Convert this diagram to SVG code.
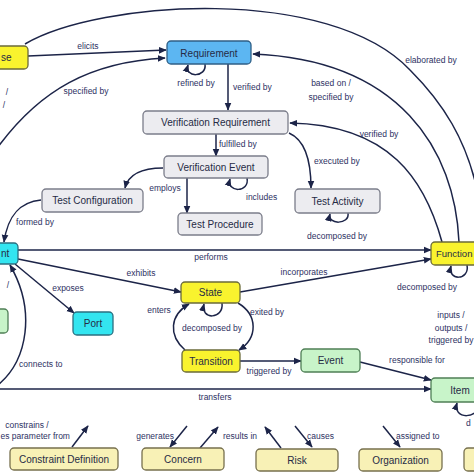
<svg xmlns="http://www.w3.org/2000/svg" width="474" height="474" viewBox="0 0 474 474">
<defs>
<marker id="a" viewBox="0 0 10 10" refX="9" refY="5" markerWidth="8" markerHeight="8" markerUnits="userSpaceOnUse" orient="auto"><path d="M0,0.8 L10,5 L0,9.2 z" fill="#1c2448"/></marker>
<style>
.n rect{stroke-width:1.3}
.y rect{fill:#f9f32e;stroke:#6b6b3a}
.b rect{fill:#5cb6f2;stroke:#2f5f86}
.g rect{fill:#ececf0;stroke:#7b7d8a}
.c rect{fill:#33e5f0;stroke:#2b6f80}
.gr rect{fill:#c8f4c9;stroke:#4f7f56}
.ly rect{fill:#f8f1b6;stroke:#77704e}
.n text{font-family:"Liberation Sans",Arial,sans-serif;font-size:10px;fill:#262b45;text-anchor:middle}
.e path{fill:none;stroke:#1c2448;stroke-width:1.5}
.e path.m{marker-end:url(#a)}
.l{font-family:"Liberation Sans",Arial,sans-serif;font-size:8.5px;fill:#2d3163}
.l text.c{text-anchor:middle}
.l text.r{text-anchor:end}
</style>
</defs>
<rect width="474" height="474" fill="#ffffff"/>

<g class="e" id="connectors">
<path d="M25,44 C100,0 330,-15 410,70 C445,105 465,140 476,185"/>
<path class="m" d="M28,56 L166,50"/>
<path class="m" d="M-2,147 C40,90 90,62 165,58"/>
<path class="m" d="M205,64 C207,78 184,78 188,65"/>
<path class="m" d="M228,64 L228,110"/>
<path class="m" d="M459,242 C455,150 400,60 253,54"/>
<path class="m" d="M442,242 C425,180 390,125 290,123"/>
<path class="m" d="M216,134 L216,156"/>
<path class="m" d="M289,133 C305,140 311,160 311,188"/>
<path class="m" d="M163,168 C140,168 128,176 125,188"/>
<path class="m" d="M187,178 L187,213"/>
<path class="m" d="M247,178 C250,193 226,193 230,179"/>
<path class="m" d="M348,213 C350,225 327,225 330,214"/>
<path class="m" d="M41,200 C20,202 8,215 4,242"/>
<path class="m" d="M18,250 L431,250"/>
<path class="m" d="M18,259 L181,292"/>
<path class="m" d="M15,264 L74,313"/>
<path class="m" d="M-2,385 C28,360 36,310 10,265"/>
<path class="m" d="M240,292 L431,259"/>
<path class="m" d="M467,265 C470,281 447,281 451,266"/>
<path class="m" d="M222,303 C224,320 200,320 204,304"/>
<path class="m" d="M185,350 C168,335 170,315 189,304"/>
<path class="m" d="M238,303 C258,315 258,338 239,350"/>
<path class="m" d="M240,361 L301,361"/>
<path class="m" d="M360,362 L431,380"/>
<path class="m" d="M-2,389 L431,389"/>
<path class="m" d="M480,402 C480,420 452,420 457,403"/>
<path class="m" d="M72,447 L88,426"/>
<path class="m" d="M187,426 L170,447"/>
<path class="m" d="M200,448 L218,427"/>
<path class="m" d="M281,448 L265,427"/>
<path class="m" d="M295,426 L312,447"/>
<path class="m" d="M383,426 L400,447"/>
</g>

<g class="l" id="labels">
<text class="c" x="88" y="49">elicits</text>
<text class="c" x="86" y="94">specified by</text>
<text class="r" x="8" y="95">/</text>
<text class="r" x="5" y="108">/</text>
<text class="c" x="196" y="86">refined by</text>
<text x="233" y="90">verified by</text>
<text class="c" x="331" y="86">based on /</text>
<text class="c" x="331" y="100">specified by</text>
<text class="c" x="431" y="63">elaborated by</text>
<text class="c" x="379" y="137">verified by</text>
<text x="219" y="147">fulfilled by</text>
<text x="314" y="164">executed by</text>
<text class="c" x="165" y="191">employs</text>
<text x="246" y="200">includes</text>
<text class="c" x="337" y="239">decomposed by</text>
<text class="c" x="35" y="225">formed by</text>
<text class="c" x="211" y="260">performs</text>
<text class="c" x="141" y="276">exhibits</text>
<text class="r" x="9" y="288">/</text>
<text class="c" x="68" y="291">exposes</text>
<text class="c" x="304" y="275">incorporates</text>
<text class="c" x="427" y="290">decomposed by</text>
<text class="c" x="159" y="313">enters</text>
<text class="c" x="212" y="331">decomposed by</text>
<text x="250" y="315">exited by</text>
<text class="c" x="451" y="318">inputs /</text>
<text class="c" x="451" y="331">outputs /</text>
<text class="c" x="451" y="343">triggered by</text>
<text x="19" y="367">connects to</text>
<text class="c" x="269" y="374">triggered by</text>
<text class="c" x="417" y="363">responsible for</text>
<text class="c" x="215" y="400">transfers</text>
<text x="466" y="426">d</text>
<text class="c" x="27" y="428">constrains /</text>
<text x="0.5" y="439">es parameter from</text>
<text class="r" x="174" y="439">generates</text>
<text x="223" y="439">results in</text>
<text x="307" y="439">causes</text>
<text x="396" y="439">assigned to</text>
</g>

<g id="use-case" class="n y"><rect x="-40" y="46" width="68" height="23" rx="4"/><text x="1" y="61" style="text-anchor:start">se</text></g>
<g id="requirement" class="n b"><rect x="167" y="41" width="84" height="23" rx="4"/><text x="209" y="56.5">Requirement</text></g>
<g id="verification-requirement" class="n g"><rect x="143" y="111" width="145" height="23" rx="4"/><text x="215.5" y="126">Verification Requirement</text></g>
<g id="verification-event" class="n g"><rect x="164" y="156" width="104" height="22" rx="4"/><text x="216" y="170.5">Verification Event</text></g>
<g id="test-configuration" class="n g"><rect x="42" y="189" width="101" height="23" rx="4"/><text x="92.5" y="204">Test Configuration</text></g>
<g id="test-procedure" class="n g"><rect x="178" y="213" width="84" height="22" rx="4"/><text x="220" y="227.5">Test Procedure</text></g>
<g id="test-activity" class="n g"><rect x="295" y="189" width="85" height="24" rx="4"/><text x="337.5" y="204.5">Test Activity</text></g>
<g id="component" class="n c"><rect x="-50" y="243" width="68" height="21" rx="4"/><text x="1" y="257" style="text-anchor:start">nt</text></g>
<g id="function" class="n y"><rect x="431" y="242" width="70" height="23" rx="4"/><text x="436" y="257" style="text-anchor:start;font-size:9.5px">Function</text></g>
<g id="port" class="n c"><rect x="73" y="312" width="40" height="23" rx="4"/><text x="93" y="327">Port</text></g>
<g id="left-green" class="n gr"><rect x="-50" y="309" width="58" height="24" rx="4"/></g>
<g id="state" class="n y"><rect x="181" y="282" width="59" height="21" rx="4"/><text x="210.5" y="296">State</text></g>
<g id="transition" class="n y"><rect x="182" y="350" width="58" height="22" rx="4"/><text x="211" y="364.5">Transition</text></g>
<g id="event" class="n gr"><rect x="301" y="349" width="59" height="23" rx="4"/><text x="330.5" y="364">Event</text></g>
<g id="item" class="n gr"><rect x="431" y="378" width="60" height="24" rx="4"/><text x="460" y="393.5">Item</text></g>
<g id="constraint-definition" class="n ly"><rect x="10" y="448" width="108" height="22" rx="4"/><text x="64" y="462.5">Constraint Definition</text></g>
<g id="concern" class="n ly"><rect x="142" y="448" width="82" height="22" rx="4"/><text x="183" y="462.5">Concern</text></g>
<g id="risk" class="n ly"><rect x="256" y="449" width="82" height="22" rx="4"/><text x="297" y="463.5">Risk</text></g>
<g id="organization" class="n ly"><rect x="359" y="449" width="83" height="22" rx="4"/><text x="400.5" y="463.5">Organization</text></g>
<g id="right-partial" class="n ly"><rect x="464" y="448" width="40" height="23" rx="4"/></g>
</svg>
